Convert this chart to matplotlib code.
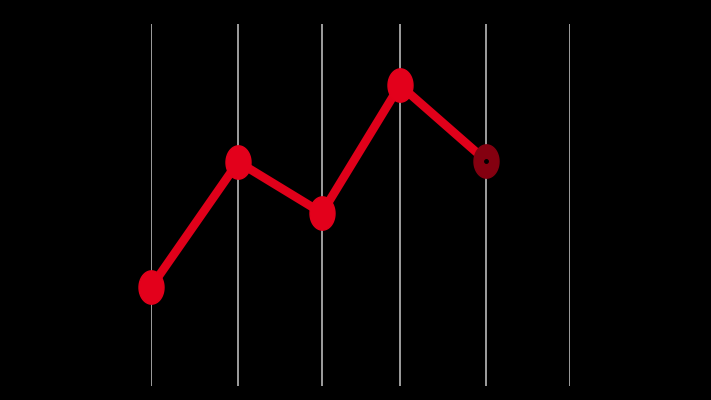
import numpy as np
import matplotlib.pyplot as plt
from matplotlib.path import Path

# column positions (uneven in the picture) and values on a 0-100 scale
periods = [0, 1.04, 2.04, 2.97, 4.0, 5.0]
values = [27.3, 61.9, 47.8, 83.1, 62.2]
points_x = periods[:len(values)]

# slightly tall ellipse marker
t = np.linspace(0, 2 * np.pi, 60)
ellipse = Path(np.column_stack([0.75 * np.cos(t), np.sin(t)]), closed=True)

fig = plt.figure(figsize=(7.11, 4.0), dpi=100, facecolor='black')
ax = fig.add_axes([151 / 711, 14 / 400, 419 / 711, 362 / 400])
ax.set_facecolor('black')
ax.set_xlim(0, 5)
ax.set_ylim(0, 100)
ax.axis('off')

ax.vlines(periods, 0, 100, color='#b8b8b8', lw=1.2, zorder=1)

ax.plot(points_x, values, color='#e0001a', lw=6.2, solid_capstyle='round',
        zorder=2, clip_on=False)
ax.plot(points_x[:-1], values[:-1], ls='none', marker=ellipse, ms=24,
        color='#e3001b', zorder=3, clip_on=False)
# last point is dimmed
ax.plot(points_x[-1:], values[-1:], ls='none', marker=ellipse, ms=24,
        color='#840010', zorder=3, clip_on=False)
ax.plot(points_x[-1:], values[-1:], ls='none', marker='o', ms=2.5,
        color='black', zorder=4, clip_on=False)

fig.savefig('out.png', dpi=100, facecolor='black')
